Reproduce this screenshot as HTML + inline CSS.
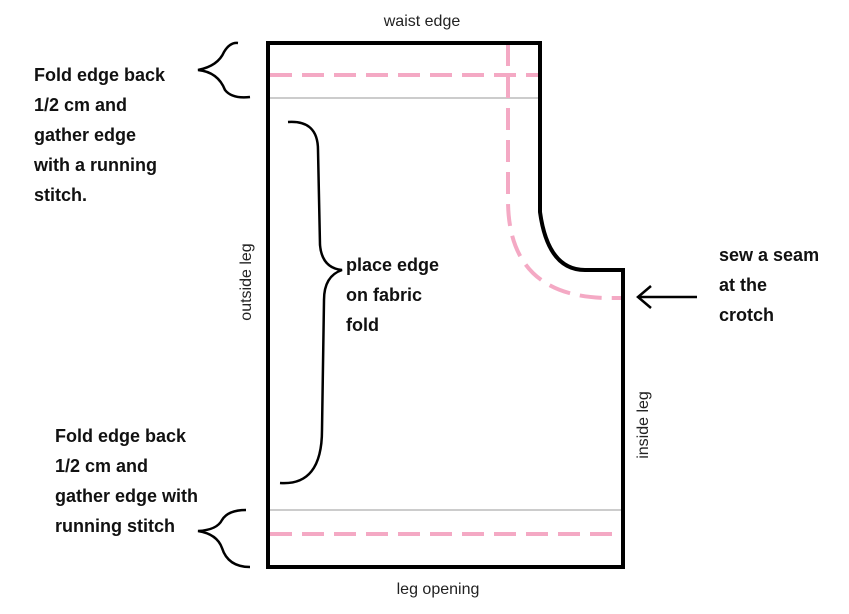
<!DOCTYPE html>
<html><head><meta charset="utf-8"><style>
body{margin:0;background:#fff}
svg{display:block}
.l{font-family:"Liberation Sans",sans-serif;font-size:16px;fill:#222}
.b{font-family:"Liberation Sans Narrow","Liberation Sans",sans-serif;font-weight:bold;font-size:18px;fill:#111}
</style></head><body>
<svg width="849" height="614" viewBox="0 0 849 614" xmlns="http://www.w3.org/2000/svg">
<rect width="849" height="614" fill="#fff"/>
<line x1="268" y1="98" x2="540" y2="98" stroke="#999" stroke-width="1"/>
<line x1="268" y1="510" x2="623" y2="510" stroke="#999" stroke-width="1"/>
<g stroke="#f4a9c4" stroke-width="4" fill="none" stroke-dasharray="22,10">
<line x1="270" y1="75" x2="540" y2="75"/>
<path d="M508 44 L508 200 Q508 298 610 298 L623 298"/>
<line x1="270" y1="534" x2="623" y2="534"/>
</g>
<path d="M268 43 L540 43 L540 212 Q548 270 585 270 L623 270 L623 567 L268 567 Z" fill="none" stroke="#000" stroke-width="4"/>
<g stroke="#000" stroke-width="2.5" fill="none">
<path d="M250 97 Q232 99 225 90 Q218 72 198 70 Q218 66 224 52 Q230 42 238 43"/>
<path d="M246 510 Q228 510 222 520 Q217 530 198 531 Q217 534 222 548 Q228 567 250 567"/>
<path d="M288 122 Q318 120 318 150 L320 245 Q322 268 342 270 Q324 276 324 300 L322 430 Q322 486 280 483"/>
<line x1="697" y1="297" x2="638" y2="297"/>
<path d="M651 286 L638 297 L651 308"/>
</g>
<text class="l" x="422" y="26" text-anchor="middle">waist edge</text>
<text class="l" x="438" y="594" text-anchor="middle">leg opening</text>
<text class="l" transform="translate(251,282) rotate(-90)" text-anchor="middle">outside leg</text>
<text class="l" transform="translate(648,425) rotate(-90)" text-anchor="middle">inside leg</text>
<g class="b">
<text x="34" y="81" class="b">Fold edge back</text>
<text x="34" y="111" class="b">1/2 cm and</text>
<text x="34" y="141" class="b">gather edge</text>
<text x="34" y="171" class="b">with a running</text>
<text x="34" y="201" class="b">stitch.</text>
<text x="55" y="442" class="b">Fold edge back</text>
<text x="55" y="472" class="b">1/2 cm and</text>
<text x="55" y="502" class="b">gather edge with</text>
<text x="55" y="532" class="b">running stitch</text>
<text x="346" y="271" class="b">place edge</text>
<text x="346" y="301" class="b">on fabric</text>
<text x="346" y="331" class="b">fold</text>
<text x="719" y="261" class="b">sew a seam</text>
<text x="719" y="291" class="b">at the</text>
<text x="719" y="321" class="b">crotch</text>
</g>
</svg>
</body></html>
